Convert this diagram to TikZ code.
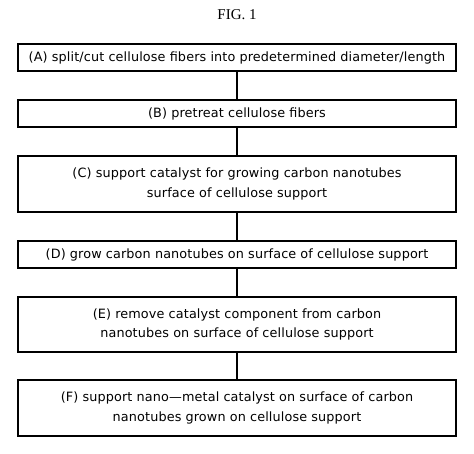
\documentclass[tikz,border=0pt]{standalone}
\usepackage{fontspec}
\setmainfont{Liberation Serif}
\newfontfamily\boxfont[LetterSpace=1]{DejaVu Sans}
\begin{document}
\begin{tikzpicture}[x=1pt,y=-1pt,
  stepbox/.style={draw,line width=1.1pt,minimum width=438pt,inner sep=0pt,align=center,
    font=\boxfont\fontsize{12.8}{19.5}\selectfont},
  link/.style={line width=1.1pt}]
\useasboundingbox (0,0) rectangle (474,453);
\node[font=\fontsize{15}{18}\selectfont] (title) at (237,15) {FIG. 1};
\node[stepbox,minimum height=27pt] (A) at (237,57.5) {(A) split/cut cellulose fibers into predetermined diameter/length};
\node[stepbox,minimum height=27pt] (B) at (237,113.5) {(B) pretreat cellulose fibers};
\node[stepbox,minimum height=56pt] (C) at (237,184) {(C) support catalyst for growing carbon nanotubes\\surface of cellulose support};
\node[stepbox,minimum height=27pt] (D) at (237,254.5) {(D) grow carbon nanotubes on surface of cellulose support};
\node[stepbox,minimum height=55pt] (E) at (237,324.5) {(E) remove catalyst component from carbon\\nanotubes on surface of cellulose support};
\node[stepbox,minimum height=56pt] (F) at (237,408) {(F) support nano\textemdash metal catalyst on surface of carbon\\nanotubes grown on cellulose support};
\draw[link] (A) -- (B);
\draw[link] (B) -- (C);
\draw[link] (C) -- (D);
\draw[link] (D) -- (E);
\draw[link] (E) -- (F);
\end{tikzpicture}
\end{document}
